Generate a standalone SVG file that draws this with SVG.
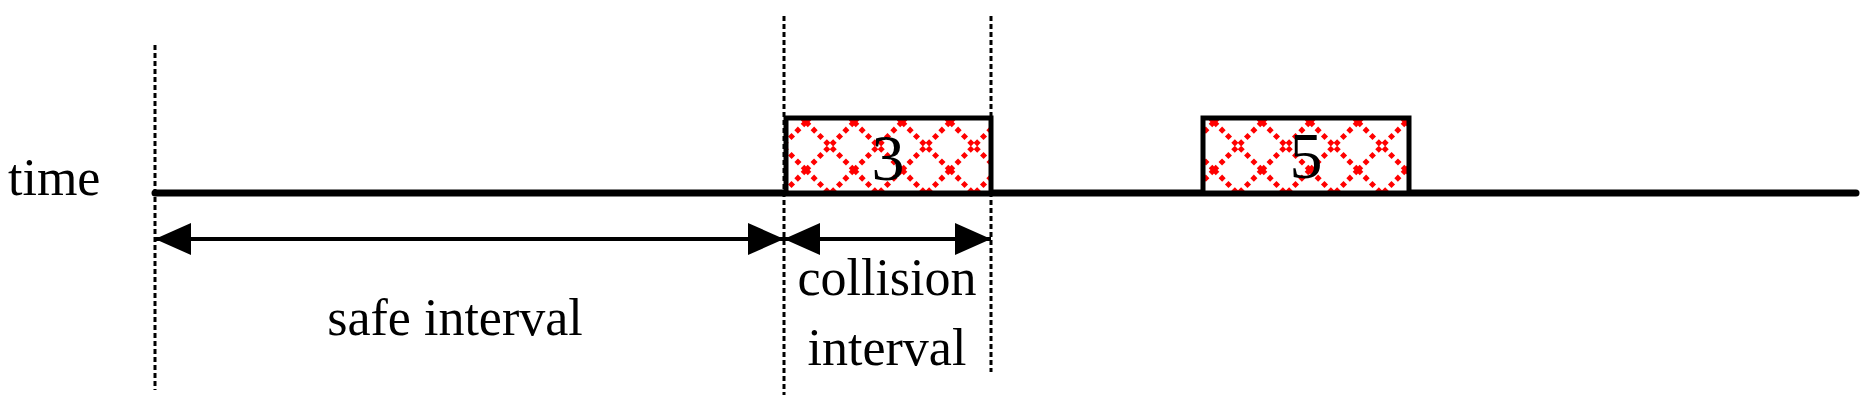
<svg xmlns="http://www.w3.org/2000/svg" width="1873" height="401" viewBox="0 0 1873 401">
<style>
text{font-family:"Liberation Serif","Times New Roman",serif;font-size:52px;fill:#000}
.num{font-size:66px}
.guide{stroke:#000;stroke-width:3;stroke-dasharray:5 3;fill:none}
.conn{stroke:#000;stroke-width:4;fill:none}
.box{stroke:#000;stroke-width:5}
.hx{stroke:#f00;stroke-width:5;stroke-dasharray:5 4;fill:none}
</style>
<defs>
<pattern id="p3" patternUnits="userSpaceOnUse" x="806" y="122" width="48" height="48">
<rect width="48" height="48" fill="#fff"/>
<path class="hx" d="M0 0L48 48M48 0L0 48"/>
</pattern>
<pattern id="p5" patternUnits="userSpaceOnUse" x="1262" y="122" width="48" height="48">
<rect width="48" height="48" fill="#fff"/>
<path class="hx" d="M0 0L48 48M48 0L0 48"/>
</pattern>
<marker id="ah" viewBox="0 0 36 32" refX="36" refY="16" markerWidth="36" markerHeight="32" markerUnits="userSpaceOnUse" orient="auto-start-reverse">
<path d="M0 0L36 16L0 32Z" fill="#000"/>
</marker>
</defs>
<rect width="1873" height="401" fill="#fff"/>
<g id="guides">
<line class="guide" x1="155" y1="45" x2="155" y2="390"/>
<line class="guide" x1="784" y1="16" x2="784" y2="395"/>
<line class="guide" x1="991" y1="16" x2="991" y2="372"/>
</g>
<g id="connectors">
<line x1="155" y1="193" x2="1856" y2="193" stroke="#000" stroke-width="7" stroke-linecap="round"/>
<line class="conn" x1="155" y1="239" x2="784" y2="239" marker-start="url(#ah)" marker-end="url(#ah)"/>
<line class="conn" x1="784" y1="239" x2="991" y2="239" marker-start="url(#ah)" marker-end="url(#ah)"/>
</g>
<g id="node-3">
<rect class="box" x="786" y="118" width="205" height="75" fill="url(#p3)"/>
<text class="num" x="888" y="180" text-anchor="middle">3</text>
</g>
<g id="node-5">
<rect class="box" x="1203" y="118" width="206" height="75" fill="url(#p5)"/>
<text class="num" x="1306" y="178" text-anchor="middle">5</text>
</g>
<g id="labels">
<text x="8" y="195">time</text>
<text x="455" y="335" text-anchor="middle">safe interval</text>
<text x="887" y="295" text-anchor="middle">collision</text>
<text x="887" y="365" text-anchor="middle">interval</text>
</g>
</svg>
